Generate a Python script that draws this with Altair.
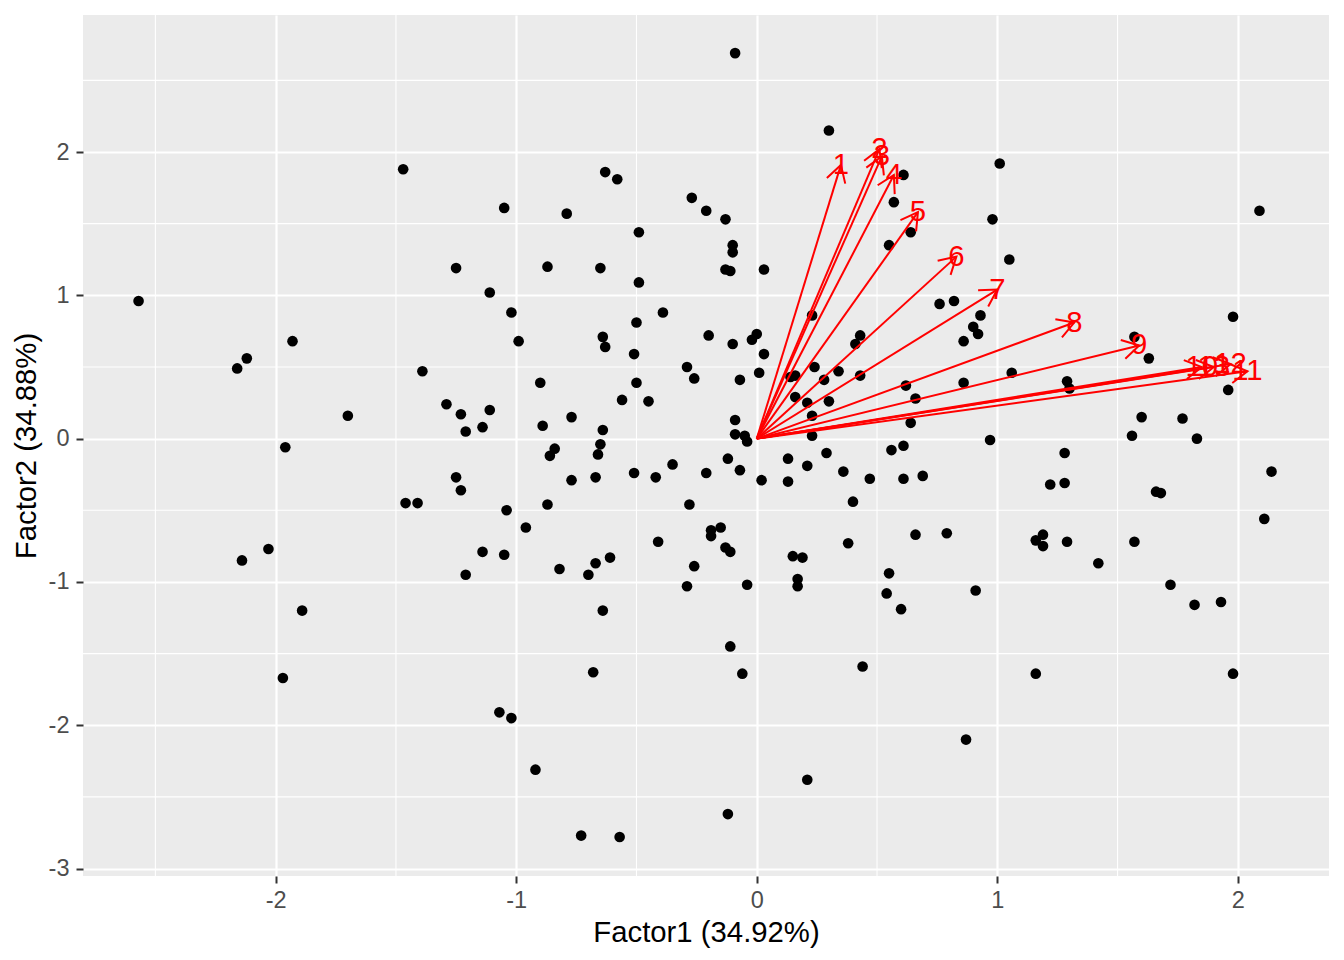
import math
import altair as alt
import pandas as pd

# ---- observation scores (Factor1, Factor2) ----
score_f1 = [-2.57, -1.47, -1.93, -2.12, -2.16, -1.39, -1.29, -1.70, -1.96, -1.46, -1.41, -2.03, -2.14, -1.89, -1.97,
            -0.09, 0.30, -0.63, -0.58, -1.05, -0.79, -0.27, -0.21, -0.13, -0.49, -0.10, -0.10, 0.57, 0.55, 0.61,
            -1.25, -0.87, -0.65, -0.13, -0.11, 0.03, -0.49, -1.11, -1.02, -0.39, -0.99, -0.50, -0.64, -0.63, 0.23,
            -0.20, -0.10, -0.02, 0.00, 0.03, -0.51, -0.29, -0.26, -0.07, 0.01, 0.43, 0.41, 0.14, 0.16, 0.24,
            0.28, 0.34, 0.43, -0.90, -0.50, -0.56, -0.45, 0.16, 0.21, 0.30, 0.23, 0.23, -1.23, -1.21, -1.14,
            -1.11, -0.89, -0.77, -0.64, -0.65, -0.66, -0.84, -0.86, -0.09, -0.09, -0.05, -0.04, -0.12, -0.07, 0.13,
            0.21, 0.29, 0.36, 0.56, -0.35, -0.21, -0.51, -0.42, -0.67, -0.77, -1.25, 0.02, 0.13, 0.47,
            1.01, 2.09, 0.98, 0.64, 1.05, 0.76, 0.82, 0.93, 0.90, 0.92, 0.86, 1.98, 1.57, 1.63, 0.62, 0.86,
            1.06, 1.29, 1.30, 0.66, 0.64, 1.96, 1.60, 1.77, 1.56, 1.83, 0.61, 0.97, 1.28, 2.14, 0.69, 0.61,
            1.22, 1.28, 1.66, 1.68, 2.11, 0.66, 0.79, 1.16, 1.19, 1.19, 1.29, 1.57, 1.42, 1.72, 1.82, 1.93,
            0.60, 0.91, 1.16, 1.98, 0.87,
            -1.23, -1.04, -0.87, -0.96, -1.14, -1.05, -1.21, -0.82, -0.67, -0.70,
            -0.61, -0.41, -0.28, -0.19, -0.15, -0.19, -0.13, -0.11, -0.26, -0.29,
            -0.04, 0.15, 0.19, 0.17, 0.17, 0.40, 0.38, 0.55, 0.54, -0.64,
            -0.11, -0.06, -0.68, 0.44, -1.07, -1.02, -0.92, 0.21, -0.12, -0.73, -0.57]

score_f2 = [0.96, 1.88, 0.68, 0.56, 0.49, 0.47, 0.24, 0.16, -0.06, -0.45, -0.45, -0.77, -0.85, -1.20, -1.67,
            2.69, 2.15, 1.86, 1.81, 1.61, 1.57, 1.68, 1.59, 1.53, 1.44, 1.35, 1.30, 1.65, 1.35, 1.84,
            1.19, 1.20, 1.19, 1.18, 1.17, 1.18, 1.09, 1.02, 0.88, 0.88, 0.68, 0.81, 0.71, 0.64, 0.86,
            0.72, 0.66, 0.69, 0.73, 0.59, 0.59, 0.50, 0.42, 0.41, 0.46, 0.72, 0.66, 0.43, 0.44, 0.50,
            0.41, 0.47, 0.44, 0.39, 0.39, 0.27, 0.26, 0.29, 0.25, 0.26, 0.16, 0.02, 0.17, 0.05, 0.08,
            0.20, 0.09, 0.15, 0.06, -0.04, -0.11, -0.07, -0.12, 0.13, 0.03, 0.02, -0.02, -0.14, -0.22, -0.14,
            -0.19, -0.10, -0.23, -0.08, -0.18, -0.24, -0.24, -0.27, -0.27, -0.29, -0.27, -0.29, -0.30, -0.28,
            1.92, 1.59, 1.53, 1.44, 1.25, 0.94, 0.96, 0.86, 0.78, 0.73, 0.68, 0.85, 0.71, 0.56, 0.37, 0.39,
            0.46, 0.40, 0.35, 0.28, 0.11, 0.34, 0.15, 0.14, 0.02, 0.00, -0.05, -0.01, -0.10, -0.23, -0.26, -0.28,
            -0.32, -0.31, -0.37, -0.38, -0.56, -0.67, -0.66, -0.71, -0.67, -0.75, -0.72, -0.72, -0.87, -1.02, -1.16, -1.14,
            -1.19, -1.06, -1.64, -1.64, -2.10,
            -0.36, -0.50, -0.46, -0.62, -0.79, -0.81, -0.95, -0.91, -0.87, -0.95,
            -0.83, -0.72, -0.46, -0.64, -0.62, -0.68, -0.76, -0.79, -0.89, -1.03,
            -1.02, -0.82, -0.83, -0.98, -1.03, -0.44, -0.73, -0.94, -1.08, -1.20,
            -1.45, -1.64, -1.63, -1.59, -1.91, -1.95, -2.31, -2.38, -2.62, -2.77, -2.78]

# ---- variable loadings (arrows) ----
var_names = ["1", "2", "3", "4", "5", "6", "7", "8", "9", "10", "11", "12", "13"]
load_f1 = [0.35, 0.51, 0.52, 0.57, 0.67, 0.83, 1.00, 1.32, 1.59, 1.85, 2.04, 1.97, 1.90]
load_f2 = [1.91, 2.02, 1.97, 1.84, 1.58, 1.27, 1.04, 0.81, 0.65, 0.50, 0.47, 0.52, 0.50]

x_ticks = [-2, -1, 0, 1, 2]
y_ticks = [-3, -2, -1, 0, 1, 2]
x_minor = [-2.5, -1.5, -0.5, 0.5, 1.5]
y_minor = [-2.5, -1.5, -0.5, 0.5, 1.5, 2.5]

W, H = 1246, 861
XMIN, XMAX = -2.801, 2.379
YMIN, YMAX = -3.052, 2.956
FONT = "Liberation Sans"

scores = pd.DataFrame({"f1": score_f1, "f2": score_f2})
kx = W / (XMAX - XMIN)
ky = H / (YMAX - YMIN)
arrows = pd.DataFrame({"var": var_names, "f1": load_f1, "f2": load_f2})
arrows["o1"] = 0.0
arrows["o2"] = 0.0
arrows["angle"] = [math.degrees(math.atan2(a * kx, b * ky)) % 360 for a, b in zip(load_f1, load_f2)]

xscale = alt.Scale(domain=[XMIN, XMAX], nice=False, zero=False)
yscale = alt.Scale(domain=[YMIN, YMAX], nice=False, zero=False)

common_axis = dict(grid=True, gridColor="white", gridWidth=2.2, domain=False,
                   tickColor="#333333", tickWidth=2, tickSize=7,
                   labelColor="#4D4D4D", labelFontSize=23.5, labelFont=FONT,
                   titleFontSize=29.3, titleFont=FONT, titleFontWeight="normal",
                   titleColor="black", labelExpr="'' + datum.value")
x_axis = alt.Axis(values=x_ticks, title="Factor1 (34.92%)", labelPadding=5, titlePadding=7, **common_axis)
y_axis = alt.Axis(values=y_ticks, title="Factor2 (34.88%)", labelPadding=7, titlePadding=7, **common_axis)


def X(field):
    return alt.X(field, type="quantitative", scale=xscale, axis=x_axis)


def Y(field):
    return alt.Y(field, type="quantitative", scale=yscale, axis=y_axis)


minor_x = alt.Chart(pd.DataFrame({"v": x_minor})).mark_rule(color="white", strokeWidth=1.1).encode(x=X("v"))
minor_y = alt.Chart(pd.DataFrame({"v": y_minor})).mark_rule(color="white", strokeWidth=1.1).encode(y=Y("v"))

points = alt.Chart(scores).mark_circle(size=113, color="black", opacity=1).encode(x=X("f1"), y=Y("f2"))

base = alt.Chart(arrows)
shafts = base.mark_rule(color="red", strokeWidth=2).encode(
    x=X("o1"), y=Y("o2"), x2=alt.X2("f1"), y2=alt.Y2("f2"))
heads = base.mark_point(shape="M -0.5 0.866 L 0 0 L 0.5 0.866", filled=False, color="red",
                        strokeWidth=2, size=1475, opacity=1).encode(
    x=X("f1"), y=Y("f2"), angle=alt.Angle("angle:Q", scale=None))
labels = base.mark_text(color="red", fontSize=29.3, font=FONT, align="center", baseline="middle").encode(
    x=X("f1"), y=Y("f2"), text="var:N")

chart = alt.layer(minor_x, minor_y, points, shafts, heads, labels).properties(
    width=W, height=H,
    autosize=alt.AutoSizeParams(type="none"),
    padding={"left": 75, "top": 7, "right": 7, "bottom": 76},
).configure(
    background="white",
    view=alt.ViewConfig(fill="#EBEBEB", strokeWidth=0),
)

chart.save("out.html", embed_options={"renderer": "svg", "actions": False})
